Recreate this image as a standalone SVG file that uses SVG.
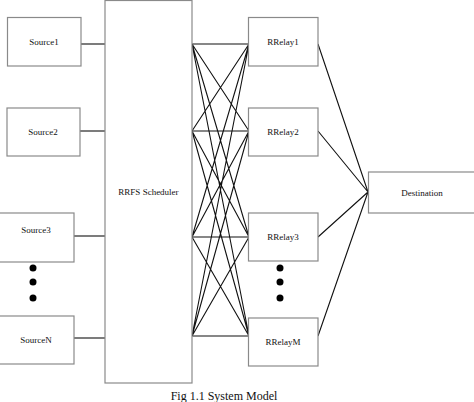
<svg xmlns="http://www.w3.org/2000/svg" width="474" height="402" viewBox="0 0 474 402">
<style>
.box{fill:#fff;stroke:#8a8a8a;stroke-width:1.2}
.lbl{font-family:"Liberation Serif",serif;font-size:9px;fill:#111;text-anchor:middle}
.cap{font-family:"Liberation Serif",serif;font-size:12px;fill:#111;text-anchor:middle}
.ln{stroke:#111;stroke-width:1.1;fill:none}
.dot{fill:#000}
</style>
<rect width="474" height="402" fill="#fff"/>
<g id="connectors">
<line class="ln" x1="81" y1="44" x2="105" y2="44"/>
<line class="ln" x1="80" y1="131" x2="105" y2="131"/>
<line class="ln" x1="74" y1="236" x2="105" y2="236"/>
<line class="ln" x1="74" y1="338" x2="105" y2="338"/>
<path class="ln" d="M192 44L249 44M192 44L249 131M192 44L249 237M192 44L249 336
M192 131L249 44M192 131L249 131M192 131L249 237M192 131L249 336
M192 237L249 44M192 237L249 131M192 237L249 237M192 237L249 336
M192 336L249 44M192 336L249 131M192 336L249 237M192 336L249 336"/>
<path class="ln" d="M318 44L368 192M318 131L368 192M318 237L368 192M318 336L368 192"/>
</g>
<g id="scheduler"><rect class="box" x="105" y="0.5" width="87" height="382.5"/><text class="lbl" x="148.5" y="195">RRFS Scheduler</text></g>
<g id="source1"><rect class="box" x="7.5" y="17.5" width="73.5" height="48.5"/><text class="lbl" x="44" y="45">Source1</text></g>
<g id="source2"><rect class="box" x="7" y="108" width="73" height="48"/><text class="lbl" x="43" y="135">Source2</text></g>
<g id="source3"><rect class="box" x="-1" y="213" width="75" height="49"/><text class="lbl" x="36" y="233">Source3</text></g>
<g id="sourceDots"><circle class="dot" cx="33" cy="268" r="3.5"/><circle class="dot" cx="33" cy="282" r="3.5"/><circle class="dot" cx="33" cy="298" r="3.5"/></g>
<g id="sourceN"><rect class="box" x="-1" y="316" width="75" height="48"/><text class="lbl" x="36" y="343">SourceN</text></g>
<g id="relay1"><rect class="box" x="248.5" y="17.5" width="69.5" height="48.5"/><text class="lbl" x="283" y="45">RRelay1</text></g>
<g id="relay2"><rect class="box" x="248.5" y="108" width="69.5" height="48"/><text class="lbl" x="283" y="135">RRelay2</text></g>
<g id="relay3"><rect class="box" x="248.5" y="213" width="69.5" height="48"/><text class="lbl" x="283" y="240">RRelay3</text></g>
<g id="relayDots"><circle class="dot" cx="280" cy="268" r="3.5"/><circle class="dot" cx="280" cy="282" r="3.5"/><circle class="dot" cx="280" cy="298" r="3.5"/></g>
<g id="relayM"><rect class="box" x="248.5" y="318" width="69.5" height="48"/><text class="lbl" x="283" y="345">RRelayM</text></g>
<g id="destination"><rect class="box" x="368.5" y="172" width="110" height="41"/><text class="lbl" x="422" y="196">Destination</text></g>
<text class="cap" x="224" y="400">Fig 1.1 System Model</text>
</svg>
